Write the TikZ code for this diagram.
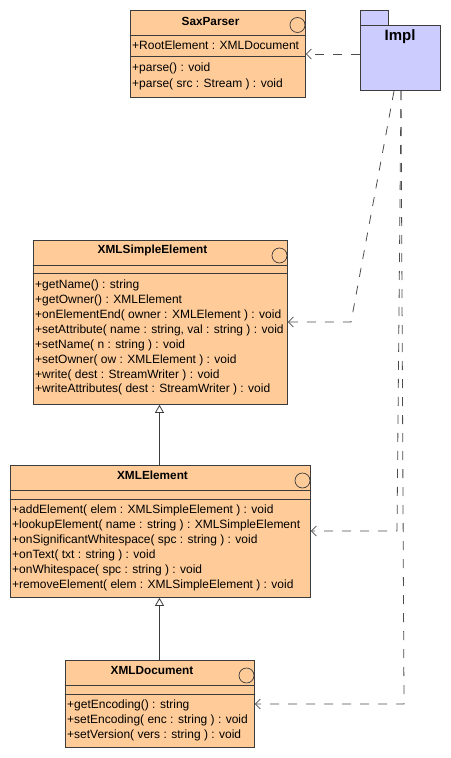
\documentclass[tikz,border=0pt]{standalone}
\usepackage{fontspec}
\setmainfont{Liberation Sans}
\usetikzlibrary{arrows.meta}
\definecolor{classfill}{RGB}{255,204,153}
\definecolor{pkgfill}{RGB}{204,204,255}
\definecolor{edge}{RGB}{60,60,60}
\tikzset{
 classbox/.style={draw=edge, fill=classfill, line width=0.8pt, anchor=north west, inner sep=0pt},
 pkgbox/.style={draw=edge, fill=pkgfill, line width=0.8pt, anchor=north west, inner sep=0pt},
 sepline/.style={draw=edge, line width=0.8pt},
 title/.style={font=\fontsize{11.8}{13}\selectfont\bfseries, inner sep=0pt},
 member/.style={font=\fontsize{12}{14}\selectfont, anchor=west, inner sep=0pt},
 icon/.style={circle, draw=edge, line width=0.7pt, minimum size=15pt, inner sep=0pt},
 depend/.style={draw=black!70, line width=0.8pt, dash pattern=on 9pt off 9pt, -{Straight Barb[length=5pt,width=10pt]}},
 inherit/.style={draw=edge, line width=0.8pt, -{Triangle[open,length=8pt,width=9pt,fill=white]}},
}
\begin{document}
\begin{tikzpicture}[x=1pt,y=-1pt]
\useasboundingbox (0,0) rectangle (450,758);
% ---------- SaxParser
\node[classbox, minimum width=175pt, minimum height=87pt] (sax) at (130,10) {};
\draw[sepline] (130,35) -- (305,35);
\draw[sepline] (130,56) -- (305,56);
\node[icon] (saxicon) at (297.5,25) {};
\node[title] (saxtitle) at (210.5,21.5) {SaxParser};
\node[member] (sax1) at (132,45) {+RootElement : XMLDocument};
\node[member] (sax2) at (132,68) {+parse() : void};
\node[member] (sax3) at (132,84) {+parse( src : Stream ) : void};
% ---------- Impl package
\node[pkgbox, minimum width=28pt, minimum height=15pt] (impltab) at (360,10) {};
\node[pkgbox, minimum width=80pt, minimum height=65pt] (impl) at (360,25) {};
\node[font=\fontsize{15}{17}\selectfont\bfseries, inner sep=0pt] (impltitle) at (400,37) {Impl};
% ---------- XMLSimpleElement
\node[classbox, minimum width=254pt, minimum height=164pt] (xse) at (33,240) {};
\draw[sepline] (33,265) -- (287,265);
\draw[sepline] (33,273) -- (287,273);
\node[icon] (xseicon) at (279.5,255.5) {};
\node[title] (xsetitle) at (152.5,250) {XMLSimpleElement};
\node[member] (xse1) at (35,285.5) {+getName() : string};
\node[member] (xse2) at (35,300.4) {+getOwner() : XMLElement};
\node[member] (xse3) at (35,315.3) {+onElementEnd( owner : XMLElement ) : void};
\node[member] (xse4) at (35,330.2) {+setAttribute( name : string, val : string ) : void};
\node[member] (xse5) at (35,345.1) {+setName( n : string ) : void};
\node[member] (xse6) at (35,360.0) {+setOwner( ow : XMLElement ) : void};
\node[member] (xse7) at (35,374.9) {+write( dest : StreamWriter ) : void};
\node[member] (xse8) at (35,389.8) {+writeAttributes( dest : StreamWriter ) : void};
% ---------- XMLElement
\node[classbox, minimum width=300pt, minimum height=132pt] (xe) at (10,465) {};
\draw[sepline] (10,490) -- (310,490);
\draw[sepline] (10,499) -- (310,499);
\node[icon] (xeicon) at (302.5,480.5) {};
\node[title] (xetitle) at (152.5,475) {XMLElement};
\node[member] (xe1) at (12,510.5) {+addElement( elem : XMLSimpleElement ) : void};
\node[member] (xe2) at (12,525.5) {+lookupElement( name : string ) : XMLSimpleElement};
\node[member] (xe3) at (12,540.5) {+onSignificantWhitespace( spc : string ) : void};
\node[member] (xe4) at (12,555.5) {+onText( txt : string ) : void};
\node[member] (xe5) at (12,570.5) {+onWhitespace( spc : string ) : void};
\node[member] (xe6) at (12,585.5) {+removeElement( elem : XMLSimpleElement ) : void};
% ---------- XMLDocument
\node[classbox, minimum width=189pt, minimum height=87pt] (xd) at (65,660) {};
\draw[sepline] (65,685) -- (254,685);
\draw[sepline] (65,694) -- (254,694);
\node[icon] (xdicon) at (246.5,675.5) {};
\node[title] (xdtitle) at (152,670) {XMLDocument};
\node[member] (xd1) at (67,705.5) {+getEncoding() : string};
\node[member] (xd2) at (67,720.5) {+setEncoding( enc : string ) : void};
\node[member] (xd3) at (67,735.5) {+setVersion( vers : string ) : void};
% ---------- connectors
\coordinate (impla) at (394,91);
\coordinate (implb) at (401,91);
\coordinate (bendA) at (351,322);
\coordinate (bendB) at (397,531);
\coordinate (bendC) at (404,704);
\draw[depend] (impl.west |- 0,54) -- (sax.east |- 0,54);
\draw[depend] (impla) -- (bendA) -- (xse.east |- bendA);
\draw[depend] (implb) -- (bendB) -- (xe.east |- bendB);
\draw[depend] (implb) -- (bendC) -- (xd.east |- bendC);
\draw[inherit] (xe.north -| 159.5,0) -- (xse.south -| 159.5,0);
\draw[inherit] (xd.north -| 159.5,0) -- (xe.south -| 159.5,0);
\end{tikzpicture}
\end{document}
